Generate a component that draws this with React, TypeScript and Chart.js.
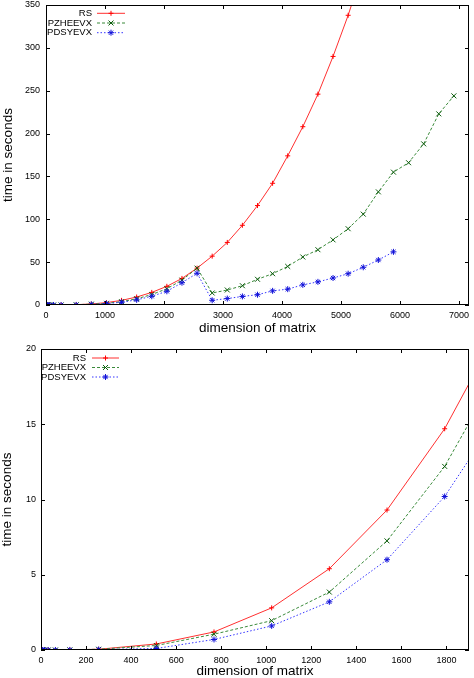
import React, { useEffect, useRef } from "react";
import { Chart, registerables } from "chart.js";

Chart.register(...registerables);

// ---------- data ----------
const DIMS = [4, 8, 16, 32, 64, 128, 256, 512, 768, 1024, 1280, 1536, 1792, 2048, 2304, 2560, 2816, 3072, 3328, 3584, 3840, 4096, 4352, 4608, 4864, 5120, 5376, 5632, 5888, 6144, 6400, 6656, 6912];
const RS_TIME = [0, 0, 0, 0, 0, 0.01, 0.05, 0.4, 1.2, 2.8, 5.4, 9.3, 14.7, 21.8, 31, 43, 57, 73, 93, 116, 142, 174, 208, 246, 290, 338, 392];
const PZHEEVX_TIME = [0, 0, 0, 0, 0, 0.01, 0.05, 0.3, 1.05, 1.95, 3.85, 7.25, 12.2, 19, 29, 43, 14, 17.5, 22.5, 30, 36.5, 45, 56, 64.5, 76, 89, 106, 132, 155, 166, 188, 223, 244];
const PDSYEVX_TIME = [0, 0, 0, 0, 0, 0.005, 0.03, 0.1, 0.7, 1.6, 3.2, 6.0, 10.2, 16, 26, 37, 5.5, 7.5, 10, 12, 16.5, 18.5, 23.5, 27, 31.5, 36.5, 44, 52.5, 62];
const SERIES_NAMES = ["RS", "PZHEEVX", "PDSYEVX"];
const X_TITLE = "dimension of matrix";
const Y_TITLE = "time in seconds";

// tick labels
const TOP_X_TICKS = [0, 1000, 2000, 3000, 4000, 5000, 6000, 7000];
const TOP_Y_TICKS = [0, 50, 100, 150, 200, 250, 300, 350];
const BOTTOM_X_TICKS = [0, 200, 400, 600, 800, 1000, 1200, 1400, 1600, 1800];
const BOTTOM_Y_TICKS = [0, 5, 10, 15, 20];

const FONT = "'Liberation Sans', Arial, Helvetica, sans-serif";

function pts(vals: number[]) {
  return vals.map((v, i) => ({ x: DIMS[i], y: v }));
}

function drawMarker(ctx: CanvasRenderingContext2D, style: string, x: number, y: number, r: number) {
  ctx.beginPath();
  const d = r * Math.SQRT1_2;
  if (style === "cross" || style === "star") {
    ctx.moveTo(x - r, y); ctx.lineTo(x + r, y);
    ctx.moveTo(x, y - r); ctx.lineTo(x, y + r);
  }
  if (style === "crossRot" || style === "star") {
    ctx.moveTo(x - d, y - d); ctx.lineTo(x + d, y + d);
    ctx.moveTo(x - d, y + d); ctx.lineTo(x + d, y - d);
  }
  ctx.stroke();
}

const framePlugin = {
  id: "gnuFrame",
  afterDatasetsDraw(chart: any) {
    const { ctx, chartArea: a, scales } = chart;
    const tl = 4;
    ctx.save();
    ctx.strokeStyle = "#000";
    ctx.lineWidth = 1;
    ctx.setLineDash([]);
    ctx.strokeRect(Math.round(a.left) + 0.5, Math.round(a.top) + 0.5, Math.round(a.right - a.left) - 1, Math.round(a.bottom - a.top) - 1);
    ctx.beginPath();
    scales.x.ticks.forEach((t: any) => {
      const px = Math.round(scales.x.getPixelForValue(t.value)) + 0.5;
      ctx.moveTo(px, a.bottom); ctx.lineTo(px, a.bottom - tl);
      ctx.moveTo(px, a.top); ctx.lineTo(px, a.top + tl);
    });
    scales.y.ticks.forEach((t: any) => {
      const py = Math.round(scales.y.getPixelForValue(t.value)) + 0.5;
      ctx.moveTo(a.left, py); ctx.lineTo(a.left + tl, py);
      ctx.moveTo(a.right, py); ctx.lineTo(a.right - tl, py);
    });
    ctx.stroke();
    ctx.restore();
  },
};

const legendPlugin = {
  id: "gnuLegend",
  afterDraw(chart: any, _args: any, opts: any) {
    const ctx = chart.ctx;
    ctx.save();
    ctx.font = `${opts.fontSize}px ${FONT}`;
    ctx.textAlign = "right";
    ctx.textBaseline = "middle";
    chart.data.datasets.forEach((ds: any, i: number) => {
      const y = opts.top + i * opts.rowHeight;
      ctx.fillStyle = "#000";
      ctx.fillText(ds.label, opts.textRight, y);
      ctx.strokeStyle = ds.borderColor;
      ctx.lineWidth = 1;
      ctx.setLineDash(ds.borderDash || []);
      ctx.beginPath();
      ctx.moveTo(opts.lineStart, y);
      ctx.lineTo(opts.lineEnd, y);
      ctx.stroke();
      ctx.setLineDash([]);
      ctx.strokeStyle = ds.pointBorderColor;
      ctx.lineWidth = ds.pointBorderWidth;
      drawMarker(ctx, ds.pointStyle, (opts.lineStart + opts.lineEnd) / 2, y, ds.pointRadius);
    });
    ctx.restore();
  },
};

function makeDatasets() {
  return [
    {
      label: SERIES_NAMES[0],
      data: pts(RS_TIME),
      borderColor: "#ff3030",
      borderWidth: 1,
      pointStyle: "cross",
      pointRadius: 2.5,
      pointBorderColor: "#ff0000",
      pointBorderWidth: 1,
      backgroundColor: "transparent",
      tension: 0,
      order: 3,
    },
    {
      label: SERIES_NAMES[1],
      data: pts(PZHEEVX_TIME),
      borderColor: "#3a8a3a",
      borderWidth: 1,
      borderDash: [3, 2],
      pointStyle: "crossRot",
      pointRadius: 3.5,
      pointBorderColor: "#0a5a0a",
      pointBorderWidth: 1,
      backgroundColor: "transparent",
      tension: 0,
      order: 2,
    },
    {
      label: SERIES_NAMES[2],
      data: pts(PDSYEVX_TIME),
      borderColor: "#3535ff",
      borderWidth: 1,
      borderDash: [1.5, 2],
      pointStyle: "star",
      pointRadius: 3,
      pointBorderColor: "#1010d8",
      pointBorderWidth: 1,
      backgroundColor: "transparent",
      tension: 0,
      order: 1,
    },
  ];
}

type Spec = {
  height: number;
  padTop: number;
  padRight: number;
  yWidth: number;
  xHeight: number;
  xMax: number;
  xTicks: number[];
  yMax: number;
  yTicks: number[];
  yPad: number;
  yTitlePad: number;
  legend: any;
};

function makeConfig(s: Spec): any {
  return {
    type: "line",
    data: { datasets: makeDatasets() },
    options: {
      responsive: false,
      animation: false,
      events: [],
      layout: { padding: { left: 0, top: s.padTop, right: s.padRight, bottom: 0 } },
      plugins: {
        legend: { display: false },
        tooltip: { enabled: false },
        gnuLegend: s.legend,
      },
      scales: {
        x: {
          type: "linear",
          min: 0,
          max: s.xMax,
          border: { display: false },
          grid: { display: false, drawTicks: false },
          afterBuildTicks: (sc: any) => {
            sc.ticks = s.xTicks.map((v) => ({ value: v }));
          },
          ticks: {
            autoSkip: false,
            maxRotation: 0,
            color: "#000",
            padding: 5,
            font: { family: FONT, size: 9 },
            callback: (v: any) => String(v),
          },
          title: {
            display: true,
            text: X_TITLE,
            color: "#000",
            font: { family: FONT, size: 13.5, lineHeight: 1 },
            padding: { top: 0, bottom: 0 },
          },
          afterFit: (sc: any) => {
            sc.height = s.xHeight;
            sc.paddingLeft = 0;
            sc.paddingRight = 0;
          },
        },
        y: {
          type: "linear",
          min: 0,
          max: s.yMax,
          border: { display: false },
          grid: { display: false, drawTicks: false },
          afterBuildTicks: (sc: any) => {
            sc.ticks = s.yTicks.map((v) => ({ value: v }));
          },
          ticks: {
            autoSkip: false,
            color: "#000",
            padding: s.yPad,
            font: { family: FONT, size: 9 },
            callback: (v: any) => String(v),
          },
          title: {
            display: true,
            text: Y_TITLE,
            color: "#000",
            font: { family: FONT, size: 13.5, lineHeight: 1 },
            padding: { top: s.yTitlePad, bottom: 0 },
          },
          afterFit: (sc: any) => {
            sc.width = s.yWidth;
            sc.paddingTop = 0;
            sc.paddingBottom = 0;
          },
        },
      },
    },
    plugins: [framePlugin, legendPlugin],
  };
}

const TOP_SPEC: Spec = {
  height: 335,
  padTop: 4,
  padRight: 2,
  yWidth: 46,
  xHeight: 30,
  xMax: 7168,
  xTicks: TOP_X_TICKS,
  yMax: 350,
  yTicks: TOP_Y_TICKS,
  yPad: 6,
  yTitlePad: 2,
  legend: { fontSize: 9.5, top: 13.3, rowHeight: 9.7, textRight: 92, lineStart: 97, lineEnd: 125 },
};

const BOTTOM_SPEC: Spec = {
  height: 343,
  padTop: 14,
  padRight: 1,
  yWidth: 41,
  xHeight: 28,
  xMax: 1900,
  xTicks: BOTTOM_X_TICKS,
  yMax: 20,
  yTicks: BOTTOM_Y_TICKS,
  yPad: 5,
  yTitlePad: 1,
  legend: { fontSize: 9.5, top: 23, rowHeight: 9.5, textRight: 86, lineStart: 92, lineEnd: 119 },
};

function ChartCanvas({ spec }: { spec: Spec }) {
  const ref = useRef<HTMLCanvasElement | null>(null);
  useEffect(() => {
    if (!ref.current) return;
    const chart = new Chart(ref.current, makeConfig(spec));
    return () => chart.destroy();
  }, [spec]);
  return <canvas ref={ref} width={474} height={spec.height} style={{ display: "block", width: 474, height: spec.height }} />;
}

export default function App() {
  return (
    <div style={{ position: "absolute", left: 0, top: 0, width: 474, height: 678, background: "#fff" }}>
      <ChartCanvas spec={TOP_SPEC} />
      <ChartCanvas spec={BOTTOM_SPEC} />
    </div>
  );
}
